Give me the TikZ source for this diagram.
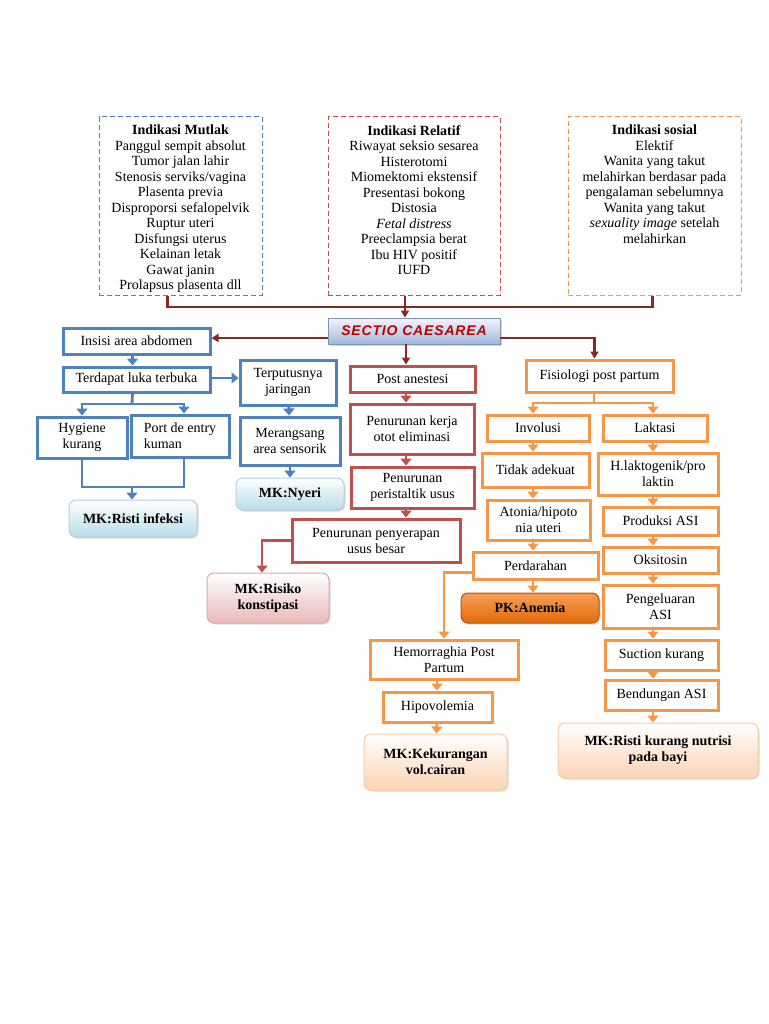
\documentclass[tikz,border=0pt]{standalone}
\usepackage{fontspec}
\setmainfont{Liberation Serif}
\newfontfamily\scfont[LetterSpace=6]{Liberation Sans}
\usetikzlibrary{arrows.meta,shadows}
\definecolor{blueline}{HTML}{4F81BD}
\definecolor{redline}{HTML}{C0504D}
\definecolor{orangeline}{HTML}{F79646}
\definecolor{topred}{HTML}{862828}
\definecolor{sctext}{HTML}{C00000}
\definecolor{scfill}{HTML}{9DB8DB}
\definecolor{mkbluefill}{HTML}{B7DDE8}
\definecolor{mkredfill}{HTML}{E6B9B8}
\definecolor{mkorangefill}{HTML}{FBD4B4}
\definecolor{anemiatop}{HTML}{F59D56}
\definecolor{anemiabot}{HTML}{E36C09}

\begin{document}
\begin{tikzpicture}[x=1pt, y=-1pt]
    \tikzstyle{indbox} = [rectangle, draw, dash pattern=on 5pt off 3pt, line width=1pt, inner sep=0pt]
    \tikzstyle{indtext} = [anchor=north, align=center, inner sep=0pt,
                                      font=\fontsize{14}{15.5}\selectfont]
    \tikzstyle{flow} = [rectangle, draw, line width=3pt, fill=white, align=center,
                                      inner sep=1pt, font=\fontsize{14}{16}\selectfont]
    \tikzstyle{bluebox} = [flow, draw=blueline]
    \tikzstyle{redbox} = [flow, draw=redline]
    \tikzstyle{orangebox} = [flow, draw=orangeline]
    \tikzstyle{mk} = [rectangle, rounded corners=7pt, align=center, line width=1pt,
                                      font=\fontsize{14}{16}\selectfont\bfseries,
                                      drop shadow={opacity=0.3, shadow xshift=1.5pt, shadow yshift=-1.5pt}]
    \tikzstyle{mkblue} = [mk, draw=blueline!40, top color=white, bottom color=mkbluefill]
    \tikzstyle{mkred} = [mk, draw=redline!50, top color=white, bottom color=mkredfill]
    \tikzstyle{mkorange} = [mk, draw=orangeline!50, top color=white, bottom color=mkorangefill]
    \tikzstyle{conn} = [line width=2.8pt]
    \tikzstyle{arr} = [conn, -{Triangle[width=11pt,length=7pt]}]
    \tikzstyle{topline} = [draw=topred, line width=2.2pt]
    \tikzstyle{toparr} = [topline, -{Triangle[width=8pt,length=7pt]}]
  \useasboundingbox (0,0) rectangle (768,1024);
  % indikasi
  \node[indbox, draw=blueline, minimum width=163, minimum height=178](mutlak) at (180.5,206){};
  \node[indbox, draw=redline, minimum width=172, minimum height=178](relatif) at (414,206){};
  \node[indbox, draw=orangeline, minimum width=173, minimum height=178](sosial) at (654.5,206){};
  \node[indtext](mutlakTxt) at (180.5,125){\textbf{Indikasi Mutlak}\\Panggul sempit absolut\\Tumor jalan lahir\\
    Stenosis serviks/vagina\\Plasenta previa\\Disproporsi sefalopelvik\\Ruptur uteri\\
    Disfungsi uterus\\Kelainan letak\\Gawat janin\\Prolapsus plasenta dll};
  \node[indtext](relatifTxt) at (414,125){\textbf{Indikasi Relatif}\\Riwayat seksio sesarea\\Histerotomi\\
    Miomektomi ekstensif\\Presentasi bokong\\Distosia\\\textit{Fetal distress}\\
    Preeclampsia berat\\Ibu HIV positif\\IUFD};
  \node[indtext](sosialTxt) at (654.5,125){\textbf{Indikasi sosial}\\Elektif\\Wanita yang takut\\
    melahirkan berdasar pada\\pengalaman sebelumnya\\Wanita yang takut\\
    \textit{sexuality image} setelah\\melahirkan};
  \node[rectangle, draw=scfill!80!black, line width=0.8pt, top color=blue!4, bottom color=scfill,
        drop shadow={opacity=0.3, shadow xshift=1.5pt, shadow yshift=-1.5pt},
        minimum width=172, minimum height=26, inner sep=0pt](sectio) at (414,331)
        {\scfont\bfseries\itshape\fontsize{14}{14}\selectfont\color{sctext}SECTIO CAESAREA};
  \coordinate (bus) at (405,307);
  \coordinate (redx) at (406,0);
  \coordinate (scl) at (328,338);
  \coordinate (scr) at (500,338);
  \draw[topline] ([xshift=-13]mutlak.south) |- (bus) -| ([xshift=-2]sosial.south);
  \draw[toparr] ([xshift=-9]relatif.south) -- (bus) -- (bus |- sectio.north);
  % blue
  \node[bluebox, minimum width=147, minimum height=26](insisi) at (136.5,341){Insisi area abdomen};
  \node[bluebox, minimum width=147, minimum height=25](terdapat) at (136.5,379.5){Terdapat luka terbuka};
  \node[bluebox, minimum width=96, minimum height=45](terputus) at (288,382.5){Terputusnya\\jaringan};
  \node[bluebox, minimum width=100, minimum height=48](merang) at (290,441){Merangsang\\area sensorik};
  \node[mkblue, minimum width=108, minimum height=32](nyeri) at (290,494){MK:Nyeri};
  \node[bluebox, minimum width=90, minimum height=41](hygiene) at (82,437.5){Hygiene\\kurang};
  \node[bluebox, align=left, minimum width=98, minimum height=42](port) at (180,436){Port de entry\\kuman};
  \node[mkblue, minimum width=128, minimum height=37](ristiinf) at (133,518.5){MK:Risti infeksi};
  \draw[toparr] (scl) -- (insisi.east |- scl);
  \draw[arr, blueline] ([xshift=-4]insisi.south) -- ([xshift=-4]terdapat.north);
  \draw[arr, blueline] (terdapat.east |- 0,378) -- (terputus.west |- 0,378);
  \coordinate (tsplit) at (132,404);
  \coordinate (tjoin) at (132,487);
  \draw[conn, blueline] ([xshift=-4]terdapat.south) -- (tsplit);
  \draw[arr, blueline] (tsplit) -| (hygiene.north);
  \draw[arr, blueline] (tsplit) -| ([xshift=4]port.north);
  \draw[conn, blueline] (hygiene.south) |- (tjoin) -| ([xshift=4]port.south);
  \draw[arr, blueline] (tjoin) -- (tjoin |- ristiinf.north);
  \draw[arr, blueline] (terputus) -- (merang);
  \draw[arr, blueline] (merang) -- (nyeri);
  % red
  \node[redbox, minimum width=125, minimum height=26](postan) at (412.5,379){Post anestesi};
  \node[redbox, minimum width=124, minimum height=50](kerja) at (412,429){Penurunan kerja\\otot eliminasi};
  \node[redbox, minimum width=123, minimum height=41](peris) at (412.5,487.5){Penurunan\\peristaltik usus};
  \node[redbox, minimum width=168, minimum height=43](serap) at (376,540.5){Penurunan penyerapan\\usus besar};
  \node[mkred, minimum width=122, minimum height=50](konst) at (268,598){MK:Risiko\\konstipasi};
  \draw[toparr] (sectio.south -| redx) -- (postan.north -| redx);
  \foreach \a/\b in {postan/kerja, kerja/peris, peris/serap}
    \draw[arr, redline] (\a.south -| redx) -- (\b.north -| redx);
  \draw[arr, redline] (serap.west) -| ([xshift=-6]konst.north);
  % orange
  \coordinate (orL) at (533,0);
  \coordinate (orR) at (653,0);
  \node[orangebox, minimum width=147, minimum height=32](fisio) at (599.5,376){Fisiologi post partum};
  \node[orangebox, minimum width=102, minimum height=26](involusi) at (538,428){Involusi};
  \node[orangebox, minimum width=104, minimum height=26](laktasi) at (655,428){Laktasi};
  \node[orangebox, minimum width=107, minimum height=34](tidak) at (535.5,470){Tidak adekuat};
  \node[orangebox, minimum width=120, minimum height=42](hlakto) at (658,474){H.laktogenik/pro\\laktin};
  \node[orangebox, minimum width=103, minimum height=40](atonia) at (538.5,520){Atonia/hipoto\\nia uteri};
  \node[orangebox, minimum width=115, minimum height=28](produksi) at (660.5,521){Produksi ASI};
  \node[orangebox, minimum width=125, minimum height=27](perdarahan) at (535.5,565.5){Perdarahan};
  \node[orangebox, minimum width=115, minimum height=26](oksitosin) at (660.5,560){Oksitosin};
  \node[mk, draw=anemiabot!80!black, top color=anemiatop, bottom color=anemiabot,
        minimum width=138, minimum height=30](anemia) at (530,608){PK:Anemia};
  \node[orangebox, minimum width=115, minimum height=43](pengel) at (660.5,606.5){Pengeluaran\\ASI};
  \node[orangebox, minimum width=148, minimum height=39](hemor) at (444,659.5){Hemorraghia Post\\Partum};
  \node[orangebox, minimum width=109, minimum height=30](hipo) at (437.5,707){Hipovolemia};
  \node[mkorange, minimum width=143, minimum height=56](kekur) at (435.5,762){MK:Kekurangan\\vol.cairan};
  \node[orangebox, minimum width=113, minimum height=30](suction) at (661.5,655){Suction kurang};
  \node[orangebox, minimum width=113, minimum height=30](bendung) at (661.5,695){Bendungan ASI};
  \node[mkorange, minimum width=200, minimum height=55](nutrisi) at (658,750.5){MK:Risti kurang nutrisi\\pada bayi};
  \draw[toparr] (scr) -| ([xshift=-5]fisio.north);
  \coordinate (fsplit) at (594,403);
  \draw[conn, orangeline] (fsplit |- fisio.south) -- (fsplit);
  \draw[arr, orangeline] (fsplit) -| (orL |- involusi.north);
  \draw[arr, orangeline] (fsplit) -| (orR |- laktasi.north);
  \foreach \a/\b in {involusi/tidak, tidak/atonia, atonia/perdarahan, perdarahan/anemia}
    \draw[arr, orangeline] (orL |- \a.south) -- (orL |- \b.north);
  \foreach \a/\b in {laktasi/hlakto, hlakto/produksi, produksi/oksitosin, oksitosin/pengel,
                     pengel/suction, suction/bendung, bendung/nutrisi}
    \draw[arr, orangeline] (orR |- \a.south) -- (orR |- \b.north);
  \draw[arr, orangeline] ([yshift=-7]perdarahan.west) -| (hemor.north);
  \draw[arr, orangeline] ([xshift=-7]hemor.south) -- ([xshift=-7]hemor.south |- hipo.north);
  \draw[arr, orangeline] (hipo) -- (kekur);
\end{tikzpicture}
\end{document}
